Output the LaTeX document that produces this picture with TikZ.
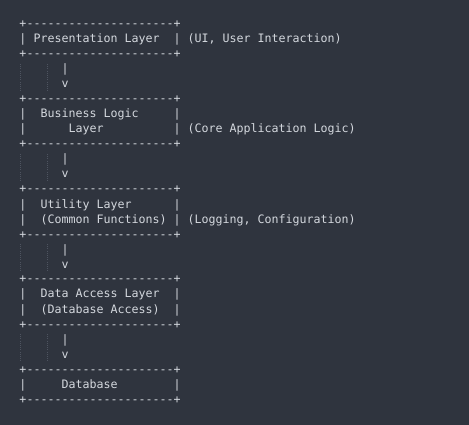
\documentclass[tikz,border=0pt]{standalone}
\usepackage{fontspec}
\newfontfamily\asciimono{DejaVu Sans Mono}
\definecolor{bgc}{RGB}{47,52,62}
\definecolor{fgc}{RGB}{212,216,222}
\definecolor{guidec}{RGB}{78,84,96}
\tikzset{
  row/.style={anchor=base west, inner sep=0pt, outer sep=0pt, text=fgc,
    font=\asciimono\fontsize{11.63}{15}\selectfont},
  guide/.style={draw=guidec, line width=0.6pt, dash pattern=on 0.8pt off 1.4pt}
}
\newcommand{\rowy}[1]{-(28pt+#1*15pt)}
\begin{document}
\begin{tikzpicture}[x=1pt,y=1pt]
\fill[bgc] (0,0) rectangle (469,-425);
\useasboundingbox (0,0) rectangle (469,-425);
% rows
\node[row] (r0)  at (19.5,-28)  {+---------------------+};
\node[row] (r1)  at (19.5,-43)  {|~Presentation~Layer~~|~(UI,~User~Interaction)};
\node[row] (r2)  at (19.5,-58)  {+---------------------+};
\node[row] (r3)  at (19.5,-73)  {~~~~~~|};
\node[row] (r4)  at (19.5,-88)  {~~~~~~v};
\node[row] (r5)  at (19.5,-103) {+---------------------+};
\node[row] (r6)  at (19.5,-118) {|~~Business~Logic~~~~~|};
\node[row] (r7)  at (19.5,-133) {|~~~~~~Layer~~~~~~~~~~|~(Core~Application~Logic)};
\node[row] (r8)  at (19.5,-148) {+---------------------+};
\node[row] (r9)  at (19.5,-163) {~~~~~~|};
\node[row] (r10) at (19.5,-178) {~~~~~~v};
\node[row] (r11) at (19.5,-193) {+---------------------+};
\node[row] (r12) at (19.5,-208) {|~~Utility~Layer~~~~~~|};
\node[row] (r13) at (19.5,-223) {|~~(Common~Functions)~|~(Logging,~Configuration)};
\node[row] (r14) at (19.5,-238) {+---------------------+};
\node[row] (r15) at (19.5,-253) {~~~~~~|};
\node[row] (r16) at (19.5,-268) {~~~~~~v};
\node[row] (r17) at (19.5,-283) {+---------------------+};
\node[row] (r18) at (19.5,-298) {|~~Data~Access~Layer~~|};
\node[row] (r19) at (19.5,-313) {|~~(Database~Access)~~|};
\node[row] (r20) at (19.5,-328) {+---------------------+};
\node[row] (r21) at (19.5,-343) {~~~~~~|};
\node[row] (r22) at (19.5,-358) {~~~~~~v};
\node[row] (r23) at (19.5,-373) {+---------------------+};
\node[row] (r24) at (19.5,-388) {|~~~~~Database~~~~~~~~|};
\node[row] (r25) at (19.5,-403) {+---------------------+};
% faint indent guides in the arrow gaps
\foreach \t in {64,154,244,334}{
  \coordinate (ga\t) at (20,-\t);
  \coordinate (gb\t) at (20,-\t-28);
  \coordinate (gc\t) at (47.5,-\t);
  \coordinate (gd\t) at (47.5,-\t-28);
  \draw[guide] (ga\t) -- (gb\t);
  \draw[guide] (gc\t) -- (gd\t);
}
\end{tikzpicture}
\end{document}
